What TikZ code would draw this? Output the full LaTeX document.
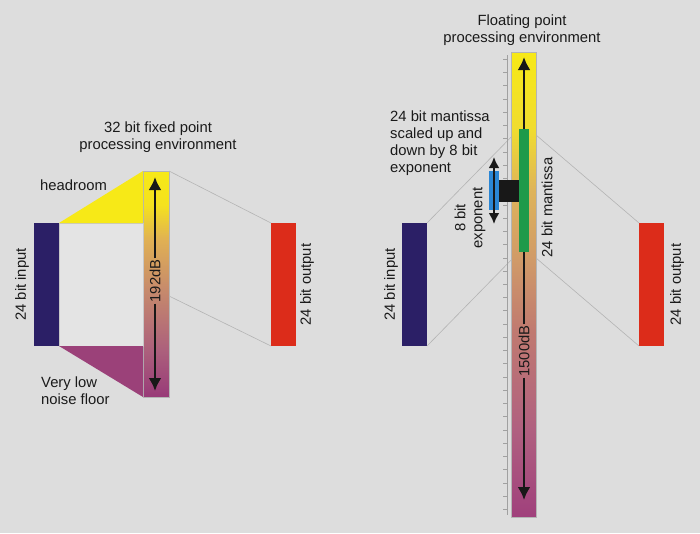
\documentclass[tikz,border=0pt]{standalone}
\usepackage{fontspec}
\setmainfont{Liberation Sans}
\usetikzlibrary{arrows.meta}
\definecolor{bg}{RGB}{221,221,221}
\definecolor{inner}{RGB}{228,228,228}
\definecolor{navy}{RGB}{43,31,102}
\definecolor{redout}{RGB}{220,44,26}
\definecolor{yel}{RGB}{247,233,23}
\definecolor{purp}{RGB}{155,65,121}
\definecolor{grn}{RGB}{30,154,74}
\definecolor{blu}{RGB}{43,134,212}
\definecolor{blk}{RGB}{24,24,24}
\definecolor{txt}{RGB}{26,26,26}
\definecolor{lineg}{RGB}{180,180,180}
\definecolor{rulerg}{RGB}{160,160,160}
\definecolor{aA}{RGB}{152,58,120}
\definecolor{aB}{RGB}{172,96,124}
\definecolor{aC}{RGB}{198,138,108}
\definecolor{aD}{RGB}{224,176,84}
\definecolor{aE}{RGB}{245,226,30}
\definecolor{bA}{RGB}{160,64,124}
\definecolor{bB}{RGB}{176,96,128}
\definecolor{bC}{RGB}{192,122,112}
\definecolor{bD}{RGB}{208,154,104}
\definecolor{bE}{RGB}{222,180,90}
\definecolor{bF}{RGB}{240,220,48}
\pgfdeclareverticalshading{barA}{100bp}{color(0bp)=(aA); color(25bp)=(aA); color(35.4bp)=(aB); color(48.7bp)=(aC); color(59.7bp)=(aD); color(67.5bp)=(aE); color(75bp)=(yel); color(100bp)=(yel)}
\pgfdeclareverticalshading{barB}{100bp}{color(0bp)=(bA); color(25bp)=(bA); color(34.4bp)=(bB); color(45.1bp)=(bC); color(52.6bp)=(bD); color(60.2bp)=(bE); color(66.6bp)=(bF); color(75bp)=(yel); color(100bp)=(yel)}
\tikzset{
  box/.style={inner sep=0pt, outer sep=0pt, draw=none, minimum width=#1},
  lbl/.style={text=txt, font=\fontsize{14.8}{17}\selectfont, inner sep=1pt},
  conn/.style={draw=lineg, line width=0.6pt},
  arr/.style={line width=2.8pt, draw=blk, -{Latex[length=13pt,width=13pt]}},
  sarr/.style={line width=2.4pt, draw=blk, -{Latex[length=11pt,width=11pt]}},
}
\begin{document}
\begin{tikzpicture}[x=1pt,y=-1pt]
\fill[bg] (0,0) rectangle (700,533);
\useasboundingbox (0,0) rectangle (700,533);

% ---------------- left diagram ----------------
\node[box=25pt, minimum height=123pt, fill=navy] (in1) at (46.5,284.5) {};
\node[box=25pt, minimum height=123pt, fill=redout] (out1) at (283.5,284.5) {};
\node[box=26pt, minimum height=226pt, shading=barA, draw=lineg, line width=0.4pt] (bar1) at (156,284) {};
\coordinate (b1m) at (169,296);
\fill[inner, draw=lineg!60!inner, line width=0.5pt] (in1.north east) rectangle (bar1.west |- in1.south);
\fill[yel] (in1.north east) -- (bar1.north west) -- (bar1.west |- in1.north) -- cycle;
\fill[purp] (in1.south east) -- (bar1.west |- in1.south) -- (bar1.south west) -- cycle;
\draw[conn] (bar1.north east) -- (out1.north west);
\draw[conn] (b1m) -- (out1.south west);

\node[lbl, rotate=90] (db1) at (155,281) {192dB};
\coordinate (t1) at (155,177);
\coordinate (u1) at (155,391);
\draw[arr] (db1.east) -- (t1);
\draw[arr] (db1.west) -- (u1);

\node[lbl, align=center] (title1) at (158,137.5) {32 bit fixed point\\processing environment};
\node[lbl, anchor=west] (head) at (39,185) {headroom};
\node[lbl, anchor=west, align=left] (noise) at (40,390.5) {Very low\\noise floor};
\node[lbl, rotate=90] (inlab1) at (22,284.5) {24 bit input};
\node[lbl, rotate=90] (outlab1) at (307,284.5) {24 bit output};

% ---------------- right diagram ----------------
\node[box=25pt, minimum height=123pt, fill=navy] (in2) at (414.5,284.5) {};
\node[box=25pt, minimum height=123pt, fill=redout] (out2) at (651.5,284.5) {};
\node[box=10pt, minimum height=123pt] (grn0) at (524,190.5) {};
\draw[conn] (in2.north east) -- (grn0.north west);
\draw[conn] (in2.south east) -- (grn0.south west);
\draw[conn] (out2.north west) -- (grn0.north east);
\draw[conn] (out2.south west) -- (grn0.south east);

% ruler
\coordinate (r0) at (507,55);
\coordinate (r1) at (507,515);
\draw[rulerg, line width=0.6pt] (r0) -- (r1);
\foreach \i in {0,...,34} {
  \draw[rulerg, line width=0.6pt] (503,59.3+13.235*\i) -- (507,59.3+13.235*\i);
}

\node[box=25pt, minimum height=465pt, shading=barB, draw=lineg, line width=0.4pt] (bar2) at (523.5,284.5) {};

\node[lbl, rotate=90] (db2) at (524,351) {1500dB};
\coordinate (t2) at (524,57);
\coordinate (u2) at (524,500);
\draw[arr] (db2.east) -- (t2);
\draw[arr] (db2.west) -- (u2);

\node[box=10pt, minimum height=123pt, fill=grn] (grn) at (524,190.5) {};
\node[box=20pt, minimum height=22pt, fill=blk] (blkb) at (509,191) {};
\node[box=10pt, minimum height=39pt, fill=blu] (blub) at (494,190.5) {};
\coordinate (et) at (494,157);
\coordinate (eb) at (494,224);
\draw[sarr] (blub.center) -- (et);
\draw[sarr] (blub.center) -- (eb);

\node[lbl, align=center] (title2) at (522,30.5) {Floating point\\processing environment};
\node[lbl, anchor=west, align=left] (mant) at (389,143) {24 bit mantissa\\scaled up and\\down by 8 bit\\exponent};
\node[lbl, rotate=90, align=center] (explab) at (470,218) {8 bit\\exponent};
\node[lbl, rotate=90] (mantlab) at (547,207.5) {24 bit mantissa};
\node[lbl, rotate=90] (inlab2) at (391,284.5) {24 bit input};
\node[lbl, rotate=90] (outlab2) at (677,284.5) {24 bit output};
\end{tikzpicture}
\end{document}
